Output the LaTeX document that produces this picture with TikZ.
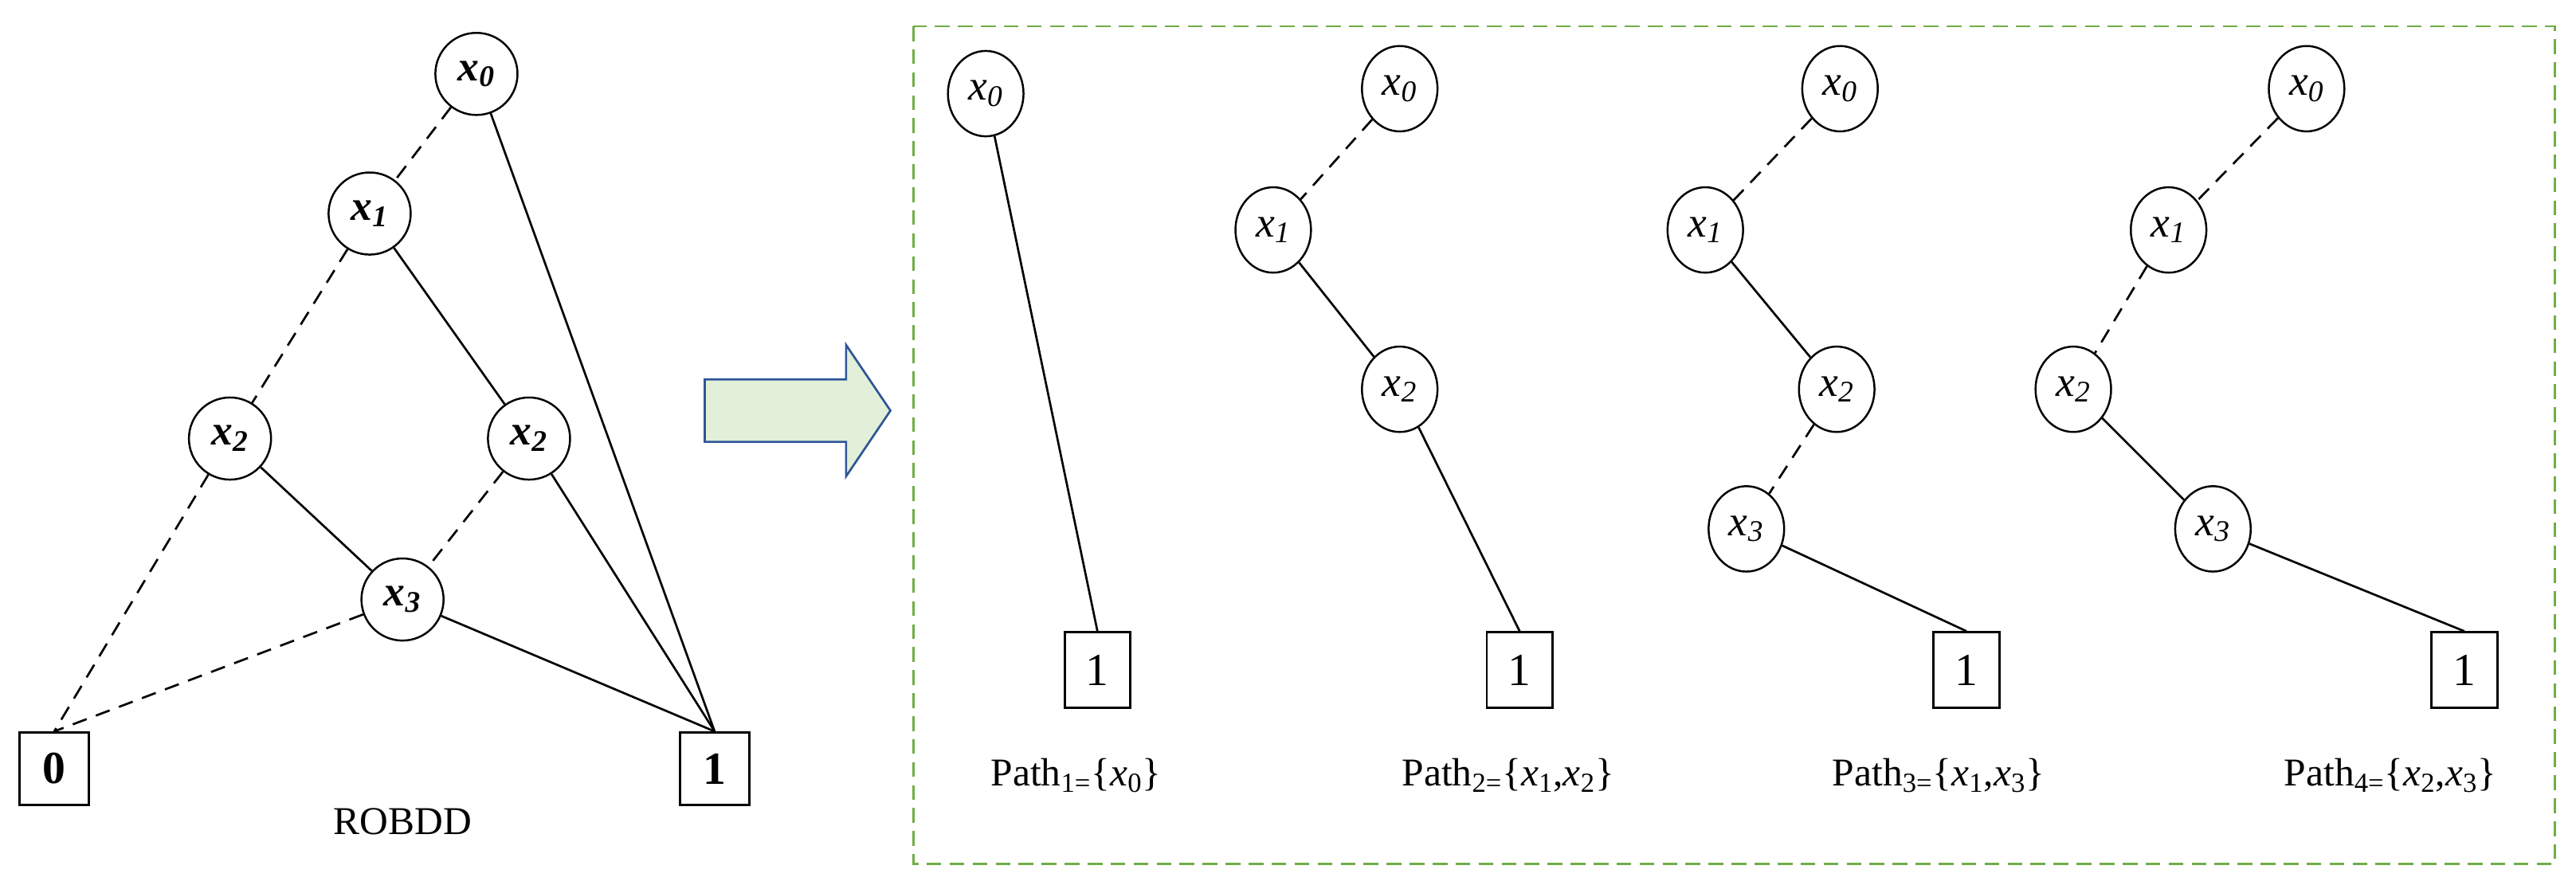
\documentclass[tikz,border=0pt]{standalone}
\usepackage{fontspec}
\setmainfont{Liberation Serif}
\begin{document}
\begin{tikzpicture}[x=1pt,y=-1pt,
 cn/.style={circle,draw,line width=1.2pt,minimum size=50pt,inner sep=0pt,font=\fontsize{26}{28}\selectfont\bfseries\itshape},
 cr/.style={ellipse,draw,line width=1.2pt,minimum width=46pt,minimum height=52pt,inner sep=0pt,font=\fontsize{26}{28}\selectfont\itshape},
 bx/.style={rectangle,draw,line width=1.4pt,minimum width=42pt,minimum height=44pt,inner sep=0pt,font=\fontsize{28}{30}\selectfont\bfseries},
 bxr/.style={rectangle,draw,line width=1.4pt,minimum width=40pt,minimum height=46pt,inner sep=0pt,font=\fontsize{28}{30}\selectfont},
 ed/.style={line width=1.3pt},
 dd/.style={line width=1.3pt,dash pattern=on 9pt off 6pt},
 lb/.style={font=\fontsize{24}{26}\selectfont}]
\useasboundingbox (0,0) rectangle (1568,541);
\usetikzlibrary{shapes.geometric}
% left
\node[cn] (a0) at (290,45) {x\textsubscript{0}};
\node[cn] (a1) at (225,130) {x\textsubscript{1}};
\node[cn] (a2) at (140,267) {x\textsubscript{2}};
\node[cn] (b2) at (322,267) {x\textsubscript{2}};
\node[cn] (a3) at (245,365) {x\textsubscript{3}};
\node[bx] (z0) at (33,468) {0};
\node[bx] (z1) at (435,468) {1};
\node[lb] (rob) at (245,500) {ROBDD};
\draw[dd] (a0)--(a1); \draw[ed] (a0)--(z1.north);
\draw[dd] (a1)--(a2); \draw[ed] (a1)--(b2);
\draw[dd] (a2)--(z0.north); \draw[ed] (a2)--(a3);
\draw[dd] (b2)--(a3); \draw[ed] (b2)--(z1.north);
\draw[dd] (a3)--(z0.north); \draw[ed] (a3)--(z1.north);
% arrow
\draw[line width=1.3pt,draw={rgb,255:red,47;green,85;blue,151},fill={rgb,255:red,226;green,240;blue,217}]
 (429,231)--(515,231)--(515,210)--(542,250)--(515,290)--(515,269)--(429,269)--cycle;
% frame
\draw[line width=1.4pt,draw={rgb,255:red,112;green,173;blue,71},dash pattern=on 9pt off 5pt] (556,16) rectangle (1555,526);
% path1
\node[cr] (p0) at (600,57) {x\textsubscript{0}};
\node[bxr] (q1) at (668,408) {1};
\draw[ed] (p0)--(q1.north);
% path2
\node[cr] (r0) at (852,54) {x\textsubscript{0}};
\node[cr] (r1) at (775,140) {x\textsubscript{1}};
\node[cr] (r2) at (852,237) {x\textsubscript{2}};
\node[bxr] (rb) at (925,408) {1};
\draw[dd] (r0)--(r1); \draw[ed] (r1)--(r2); \draw[ed] (r2)--(rb.north);
% path3
\node[cr] (s0) at (1120,54) {x\textsubscript{0}};
\node[cr] (s1) at (1038,140) {x\textsubscript{1}};
\node[cr] (s2) at (1118,237) {x\textsubscript{2}};
\node[cr] (s3) at (1063,322) {x\textsubscript{3}};
\node[bxr] (sb) at (1197,408) {1};
\draw[dd] (s0)--(s1); \draw[ed] (s1)--(s2); \draw[dd] (s2)--(s3); \draw[ed] (s3)--(sb.north);
% path4
\node[cr] (t0) at (1404,54) {x\textsubscript{0}};
\node[cr] (t1) at (1320,140) {x\textsubscript{1}};
\node[cr] (t2) at (1262,237) {x\textsubscript{2}};
\node[cr] (t3) at (1347,322) {x\textsubscript{3}};
\node[bxr] (tb) at (1500,408) {1};
\draw[dd] (t0)--(t1); \draw[dd] (t1)--(t2); \draw[ed] (t2)--(t3); \draw[ed] (t3)--(tb.north);
% labels
\node[lb] (l1) at (655,472) {Path\textsubscript{1=}\{\textit{x}\textsubscript{0}\}};
\node[lb] (l2) at (918,472) {Path\textsubscript{2=}\{\textit{x}\textsubscript{1},\textit{x}\textsubscript{2}\}};
\node[lb] (l3) at (1180,472) {Path\textsubscript{3=}\{\textit{x}\textsubscript{1},\textit{x}\textsubscript{3}\}};
\node[lb] (l4) at (1455,472) {Path\textsubscript{4=}\{\textit{x}\textsubscript{2},\textit{x}\textsubscript{3}\}};
\end{tikzpicture}
\end{document}
